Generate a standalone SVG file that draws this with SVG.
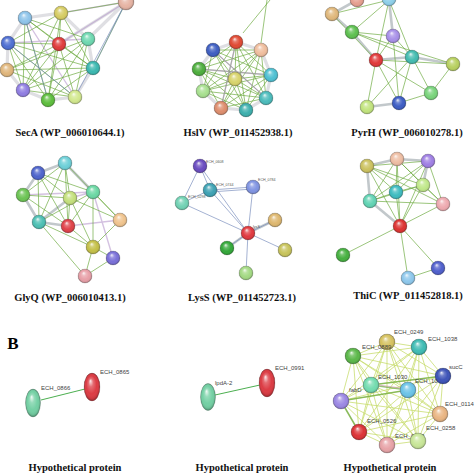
<svg xmlns="http://www.w3.org/2000/svg" width="474" height="474" viewBox="0 0 474 474">
<defs>
<radialGradient id="gl" cx="0.5" cy="0.5" r="0.5" fx="0.4" fy="0.28">
<stop offset="0" stop-color="#fff" stop-opacity="0.9"/>
<stop offset="0.3" stop-color="#fff" stop-opacity="0.25"/>
<stop offset="0.65" stop-color="#fff" stop-opacity="0"/>
<stop offset="0.88" stop-color="#000" stop-opacity="0.08"/>
<stop offset="1" stop-color="#000" stop-opacity="0.35"/>
</radialGradient>
<style>
.t{font-family:"Liberation Serif","Times New Roman",serif;font-weight:bold;font-size:10.5px;text-anchor:middle;fill:#111}
.l{font-family:"Liberation Sans",Arial,sans-serif;font-size:6px;fill:#444}
.s{font-family:"Liberation Sans",Arial,sans-serif;font-size:3.6px;fill:#555}
.g{fill:url(#gl);stroke:#555;stroke-opacity:0.35;stroke-width:0.6}
.h{fill:none;stroke:#b8b8c0;stroke-width:3.2;stroke-opacity:0.45}
.e{fill:none;stroke:#6aa83c;stroke-width:0.9;stroke-opacity:0.75}
.p{fill:none;stroke:#b090c8;stroke-width:1.4;stroke-opacity:0.55}
.b{fill:none;stroke:#6f86b8;stroke-width:0.8;stroke-opacity:0.8}
.y{fill:none;stroke:#c6dc6a;stroke-width:0.9;stroke-opacity:0.85}
.k{fill:none;stroke:#9aa4a8;stroke-width:2.6;stroke-opacity:0.6}
</style>
</defs>
<rect width="474" height="474" fill="#fff"/>
<g id="connectors">
<!-- SecA -->
<path class="h" d="M25,18L61,13L88,39L93,68L75,97L48,100L23,90L7,70L8,43L25,18M126,2L88,39M126,2L59,44"/>
<path class="p" d="M126,2L59,44M126,2L61,13M8,43L88,39M25,18L75,97"/>
<path class="e" d="M126,2L61,13M126,2L93,68M25,18L59,44M25,18L88,39M25,18L93,68M25,18L48,100M8,43L59,44M8,43L93,68M8,43L48,100M8,43L75,97M61,13L59,44M61,13L8,43M61,13L23,90M61,13L48,100M59,44L93,68M59,44L23,90M59,44L48,100M59,44L75,97M59,44L7,70M88,39L7,70M88,39L23,90M88,39L48,100M88,39L75,97M93,68L23,90M93,68L48,100M7,70L75,97M7,70L93,68M23,90L75,97M25,18L23,90M8,43L23,90M61,13L93,68"/>
<path class="b" d="M126,2L75,97M126,2L93,68M8,43L75,97M25,18L48,100"/>
<!-- HslV -->
<path class="h" d="M236,42L261,50L271,75L266,98L246,110L221,108L203,91L199,69L213,50L236,42"/>
<path class="e" d="M270,0L243,33M267,0L261,43M236,42L235,79M236,42L199,69M236,42L271,75M236,42L203,91M236,42L266,98M236,42L221,108M236,42L246,110M261,50L213,50M261,50L199,69M261,50L235,79M261,50L203,91M261,50L266,98M261,50L221,108M261,50L246,110M213,50L235,79M213,50L271,75M213,50L203,91M213,50L266,98M213,50L246,110M199,69L235,79M199,69L271,75M199,69L266,98M199,69L221,108M199,69L246,110M235,79L271,75M235,79L203,91M235,79L266,98M235,79L221,108M235,79L246,110M271,75L203,91M271,75L221,108M271,75L246,110M203,91L266,98M203,91L246,110M266,98L221,108"/>
<path class="p" d="M213,50L266,98M199,69L271,75M236,42L221,108"/>
<!-- PyrH -->
<path class="k" d="M332,14L357,0M332,14L352,32M352,32L376,60M376,60L412,57M389,0L393,36M399,103L367,107M412,57L453,64"/>
<path class="e" d="M332,14L376,60M332,14L389,0M352,32L389,0M352,32L393,36M352,32L412,57M389,0L376,60M389,0L412,57M393,36L376,60M393,36L412,57M376,60L453,64M376,60L431,93M376,60L399,103M376,60L367,107M412,57L431,93M412,57L399,103M412,57L367,107M431,93L399,103M453,64L431,93M393,36L399,103M352,32L453,64"/>
<!-- GlyQ -->
<path class="k" d="M65,163L38,173M65,163L93,192M38,173L23,195M23,195L39,222M39,222L68,226M70,198L39,222"/>
<path class="p" d="M23,195L93,192M68,226L120,220M93,192L113,258M70,198L93,192"/>
<path class="e" d="M65,163L23,195M65,163L70,198M65,163L39,222M65,163L68,226M38,173L70,198M38,173L93,192M38,173L39,222M38,173L68,226M23,195L70,198M23,195L68,226M70,198L68,226M70,198L120,220M93,192L39,222M93,192L68,226M93,192L120,220M93,192L93,247M70,198L93,247M39,222L93,247M68,226L93,247M120,220L93,247M93,247L113,258M93,247L85,276M113,258L85,276M39,222L85,276M65,163L120,220"/>
<!-- LysS -->
<path class="k" d="M248,233L275,220M248,233L227,248"/>
<path class="b" d="M200,166L210,190M200,166L182,203M200,166L248,233M210,190L182,203M210,190L253,187M210,192L253,189M210,190L248,233M182,203L248,233M253,187L248,233M248,233L285,250M248,233L246,273M248,233L275,220M248,233L227,248"/>
<!-- ThiC -->
<path class="k" d="M367,166L397,159M397,159L428,161M428,161L423,185M367,166L370,201M370,201L400,226"/>
<path class="e" d="M367,166L428,161M367,166L423,185M367,166L396,192M367,166L400,226M367,166L443,204M397,159L423,185M397,159L396,192M397,159L370,201M397,159L400,226M397,159L443,204M428,161L396,192M428,161L370,201M428,161L400,226M428,161L443,204M423,185L396,192M423,185L370,201M423,185L400,226M423,185L443,204M396,192L370,201M396,192L400,226M370,201L443,204M443,204L400,226M400,226L343,255M400,226L438,268M400,226L408,278M438,268L408,278"/>
<!-- B panels -->
<path fill="none" stroke="#4caf50" stroke-width="1" d="M41,400L85,389"/>
<path fill="none" stroke="#4caf50" stroke-width="1" d="M215,395L260,385"/>
<path class="y" d="M387,342L419,347M387,342L353,356M387,342L443,376M387,342L371,385M387,342L408,390M387,342L341,401M387,342L440,414M387,342L359,432M387,342L387,445M387,342L418,441M419,347L353,356M419,347L443,376M419,347L371,385M419,347L408,390M419,347L341,401M419,347L440,414M419,347L359,432M419,347L387,445M419,347L418,441M353,356L443,376M353,356L371,385M353,356L408,390M353,356L341,401M353,356L440,414M353,356L359,432M353,356L387,445M353,356L418,441M443,376L371,385M443,376L341,401M443,376L440,414M443,376L359,432M443,376L387,445M443,376L418,441M371,385L341,401M371,385L440,414M371,385L359,432M371,385L387,445M371,385L418,441M408,390L341,401M408,390L440,414M408,390L359,432M408,390L387,445M408,390L418,441M341,401L440,414M341,401L359,432M341,401L387,445M341,401L418,441M440,414L359,432M440,414L387,445M440,414L418,441M359,432L387,445M359,432L418,441M387,445L418,441"/>
<path fill="none" stroke="#6aa83c" stroke-width="1.6" stroke-opacity="0.7" d="M341,401L408,390M371,385L443,376M341,401L359,432M371,385L408,390"/>
<path fill="none" stroke="#d0a0b0" stroke-width="1.2" stroke-opacity="0.7" d="M371,384L408,389"/>
</g>
<g id="nodes-secA">
<g id="a1"><circle cx="126" cy="2" r="8" fill="#e6b4a4"/><circle cx="126" cy="2" r="8" class="g"/></g>
<g id="a2"><circle cx="61" cy="13" r="7" fill="#d6cc64"/><circle cx="61" cy="13" r="7" class="g"/></g>
<g id="a3"><circle cx="25" cy="18" r="7" fill="#8ec4ea"/><circle cx="25" cy="18" r="7" class="g"/></g>
<g id="a4"><circle cx="8" cy="43" r="7" fill="#4f6fd2"/><circle cx="8" cy="43" r="7" class="g"/></g>
<g id="a5"><circle cx="59" cy="44" r="7" fill="#e03c3c"/><circle cx="59" cy="44" r="7" class="g"/></g>
<g id="a6"><circle cx="88" cy="39" r="7" fill="#6ed8b0"/><circle cx="88" cy="39" r="7" class="g"/></g>
<g id="a7"><circle cx="93" cy="68" r="7" fill="#3cb8b0"/><circle cx="93" cy="68" r="7" class="g"/></g>
<g id="a8"><circle cx="7" cy="70" r="7" fill="#e0b67c"/><circle cx="7" cy="70" r="7" class="g"/></g>
<g id="a9"><circle cx="23" cy="90" r="7" fill="#907ee2"/><circle cx="23" cy="90" r="7" class="g"/></g>
<g id="a10"><circle cx="48" cy="100" r="7" fill="#5ebe3e"/><circle cx="48" cy="100" r="7" class="g"/></g>
<g id="a11"><circle cx="75" cy="97" r="7" fill="#d2e88e"/><circle cx="75" cy="97" r="7" class="g"/></g>
</g>
<g id="nodes-hslV">
<g id="b1"><circle cx="236" cy="42" r="7" fill="#e04a34"/><circle cx="236" cy="42" r="7" class="g"/></g>
<g id="b2"><circle cx="261" cy="50" r="7" fill="#f0be9e"/><circle cx="261" cy="50" r="7" class="g"/></g>
<g id="b3"><circle cx="213" cy="50" r="7" fill="#3f5fc2"/><circle cx="213" cy="50" r="7" class="g"/></g>
<g id="b4"><circle cx="199" cy="69" r="7" fill="#4eae3e"/><circle cx="199" cy="69" r="7" class="g"/></g>
<g id="b5"><circle cx="235" cy="79" r="7" fill="#d8d46c"/><circle cx="235" cy="79" r="7" class="g"/></g>
<g id="b6"><circle cx="271" cy="75" r="7" fill="#4ec0d2"/><circle cx="271" cy="75" r="7" class="g"/></g>
<g id="b7"><circle cx="203" cy="91" r="7" fill="#a8e090"/><circle cx="203" cy="91" r="7" class="g"/></g>
<g id="b8"><circle cx="266" cy="98" r="7" fill="#4cbcbc"/><circle cx="266" cy="98" r="7" class="g"/></g>
<g id="b9"><circle cx="221" cy="108" r="7" fill="#de8e6e"/><circle cx="221" cy="108" r="7" class="g"/></g>
<g id="b10"><circle cx="246" cy="110" r="7" fill="#3eb0ae"/><circle cx="246" cy="110" r="7" class="g"/></g>
</g>
<g id="nodes-pyrH">
<g id="c0a"><circle cx="357" cy="0" r="7" fill="#e6a090"/><circle cx="357" cy="0" r="7" class="g"/></g>
<g id="c0b"><circle cx="389" cy="-1" r="7" fill="#8ed0ea"/><circle cx="389" cy="-1" r="7" class="g"/></g>
<g id="c1"><circle cx="332" cy="14" r="7" fill="#e0b87c"/><circle cx="332" cy="14" r="7" class="g"/></g>
<g id="c2"><circle cx="352" cy="32" r="7" fill="#5ec050"/><circle cx="352" cy="32" r="7" class="g"/></g>
<g id="c3"><circle cx="393" cy="36" r="7" fill="#a890e8"/><circle cx="393" cy="36" r="7" class="g"/></g>
<g id="c4"><circle cx="376" cy="60" r="7" fill="#e03a3a"/><circle cx="376" cy="60" r="7" class="g"/></g>
<g id="c5"><circle cx="412" cy="57" r="7" fill="#44bcb0"/><circle cx="412" cy="57" r="7" class="g"/></g>
<g id="c6"><circle cx="453" cy="64" r="7" fill="#b8d060"/><circle cx="453" cy="64" r="7" class="g"/></g>
<g id="c7"><circle cx="431" cy="93" r="7" fill="#7ad47c"/><circle cx="431" cy="93" r="7" class="g"/></g>
<g id="c8"><circle cx="399" cy="103" r="7" fill="#3e5ec4"/><circle cx="399" cy="103" r="7" class="g"/></g>
<g id="c9"><circle cx="367" cy="107" r="7" fill="#c2e47e"/><circle cx="367" cy="107" r="7" class="g"/></g>
</g>
<g id="nodes-glyQ">
<g id="d1"><circle cx="65" cy="163" r="7" fill="#6ed0d8"/><circle cx="65" cy="163" r="7" class="g"/></g>
<g id="d2"><circle cx="38" cy="173" r="7" fill="#4e64cc"/><circle cx="38" cy="173" r="7" class="g"/></g>
<g id="d3"><circle cx="23" cy="195" r="7" fill="#6cc454"/><circle cx="23" cy="195" r="7" class="g"/></g>
<g id="d4"><circle cx="70" cy="198" r="7" fill="#c4e07c"/><circle cx="70" cy="198" r="7" class="g"/></g>
<g id="d5"><circle cx="93" cy="192" r="7" fill="#6cd8a4"/><circle cx="93" cy="192" r="7" class="g"/></g>
<g id="d6"><circle cx="39" cy="222" r="7" fill="#4ec0b4"/><circle cx="39" cy="222" r="7" class="g"/></g>
<g id="d7"><circle cx="68" cy="226" r="7" fill="#e0424a"/><circle cx="68" cy="226" r="7" class="g"/></g>
<g id="d8"><circle cx="120" cy="220" r="7" fill="#f0c48e"/><circle cx="120" cy="220" r="7" class="g"/></g>
<g id="d9"><circle cx="93" cy="247" r="7" fill="#c4c048"/><circle cx="93" cy="247" r="7" class="g"/></g>
<g id="d10"><circle cx="113" cy="258" r="7" fill="#7a70d8"/><circle cx="113" cy="258" r="7" class="g"/></g>
<g id="d11"><circle cx="85" cy="276" r="7" fill="#e8a0a8"/><circle cx="85" cy="276" r="7" class="g"/></g>
</g>
<g id="nodes-lysS">
<g id="e1"><circle cx="200" cy="166" r="7" fill="#6a4cc0"/><circle cx="200" cy="166" r="7" class="g"/></g>
<g id="e2"><circle cx="210" cy="190" r="7" fill="#3ea2b4"/><circle cx="210" cy="190" r="7" class="g"/></g>
<g id="e3"><circle cx="253" cy="187" r="7" fill="#8094e2"/><circle cx="253" cy="187" r="7" class="g"/></g>
<g id="e4"><circle cx="182" cy="203" r="7" fill="#72d2b4"/><circle cx="182" cy="203" r="7" class="g"/></g>
<g id="e5"><circle cx="275" cy="220" r="7" fill="#deb870"/><circle cx="275" cy="220" r="7" class="g"/></g>
<g id="e6"><circle cx="248" cy="233" r="7" fill="#e03a40"/><circle cx="248" cy="233" r="7" class="g"/></g>
<g id="e7"><circle cx="227" cy="248" r="7" fill="#34a83a"/><circle cx="227" cy="248" r="7" class="g"/></g>
<g id="e8"><circle cx="285" cy="250" r="7" fill="#c8c45c"/><circle cx="285" cy="250" r="7" class="g"/></g>
<g id="e9"><circle cx="246" cy="273" r="7" fill="#a4da84"/><circle cx="246" cy="273" r="7" class="g"/></g>
<text class="s" x="206" y="163">ECH_0608</text>
<text class="s" x="216" y="186">ECH_0744</text>
<text class="s" x="258" y="181">ECH_0784</text>
<text class="s" x="188" y="198">ECH_0298</text>
<text class="s" x="253" y="228">lysS</text>
</g>
<g id="nodes-thiC">
<g id="f1"><circle cx="367" cy="166" r="7" fill="#ccc260"/><circle cx="367" cy="166" r="7" class="g"/></g>
<g id="f2"><circle cx="397" cy="159" r="7" fill="#eebea4"/><circle cx="397" cy="159" r="7" class="g"/></g>
<g id="f3"><circle cx="428" cy="161" r="7" fill="#a080e4"/><circle cx="428" cy="161" r="7" class="g"/></g>
<g id="f4"><circle cx="423" cy="185" r="7" fill="#c0e88a"/><circle cx="423" cy="185" r="7" class="g"/></g>
<g id="f5"><circle cx="396" cy="192" r="7" fill="#3ebcc0"/><circle cx="396" cy="192" r="7" class="g"/></g>
<g id="f6"><circle cx="370" cy="201" r="7" fill="#62d4b4"/><circle cx="370" cy="201" r="7" class="g"/></g>
<g id="f7"><circle cx="443" cy="204" r="7" fill="#eeaab0"/><circle cx="443" cy="204" r="7" class="g"/></g>
<g id="f8"><circle cx="400" cy="226" r="7" fill="#dc3432"/><circle cx="400" cy="226" r="7" class="g"/></g>
<g id="f9"><circle cx="343" cy="255" r="7" fill="#46b040"/><circle cx="343" cy="255" r="7" class="g"/></g>
<g id="f10"><circle cx="438" cy="268" r="7" fill="#5060cc"/><circle cx="438" cy="268" r="7" class="g"/></g>
<g id="f11"><circle cx="408" cy="278" r="7" fill="#8ec8ec"/><circle cx="408" cy="278" r="7" class="g"/></g>
</g>
<g id="titles">
<text class="t" x="70" y="136">SecA (WP_006010644.1)</text>
<text class="t" x="238" y="136">HslV (WP_011452938.1)</text>
<text class="t" x="407" y="136">PyrH (WP_006010278.1)</text>
<text class="t" x="70" y="301">GlyQ (WP_006010413.1)</text>
<text class="t" x="242" y="301">LysS (WP_011452723.1)</text>
<text class="t" x="408" y="299">ThiC (WP_011452818.1)</text>
<text x="13" y="349" font-family="Liberation Serif,serif" font-weight="bold" font-size="17" text-anchor="middle">B</text>
<text class="t" x="75" y="471">Hypothetical protein</text>
<text class="t" x="242" y="471">Hypothetical protein</text>
<text class="t" x="390" y="471">Hypothetical protein</text>
</g>
<g id="nodes-B1">
<g id="n0866"><ellipse cx="33" cy="403" rx="7.5" ry="14" fill="#74d0a4"/><ellipse cx="33" cy="403" rx="7.5" ry="14" class="g"/><text class="l" x="41" y="390">ECH_0866</text></g>
<g id="n0865"><ellipse cx="92" cy="387" rx="8" ry="14" fill="#dc3c44"/><ellipse cx="92" cy="387" rx="8" ry="14" class="g"/><text class="l" x="100" y="374">ECH_0865</text></g>
</g>
<g id="nodes-B2">
<g id="nlpdA"><ellipse cx="208" cy="397" rx="7.5" ry="13.5" fill="#74d0a4"/><ellipse cx="208" cy="397" rx="7.5" ry="13.5" class="g"/><text class="l" x="215" y="385">lpdA-2</text></g>
<g id="n0991"><ellipse cx="267" cy="383" rx="8" ry="14" fill="#dc3c44"/><ellipse cx="267" cy="383" rx="8" ry="14" class="g"/><text class="l" x="275" y="370">ECH_0991</text></g>
</g>
<g id="nodes-B3">
<g id="n0249"><circle cx="387" cy="342" r="8" fill="#d6c260"/><circle cx="387" cy="342" r="8" class="g"/><text class="l" x="394" y="334">ECH_0249</text></g>
<g id="n1038"><circle cx="419" cy="347" r="8" fill="#40bcb4"/><circle cx="419" cy="347" r="8" class="g"/><text class="l" x="428" y="341">ECH_1038</text></g>
<g id="n0889"><circle cx="353" cy="356" r="8" fill="#5cb84a"/><circle cx="353" cy="356" r="8" class="g"/><text class="l" x="362" y="349">ECH_0889</text></g>
<g id="nsucC"><circle cx="443" cy="376" r="8" fill="#3e54b8"/><circle cx="443" cy="376" r="8" class="g"/><text class="l" x="449" y="369">sucC</text></g>
<g id="n1030"><circle cx="371" cy="385" r="8" fill="#74dcb0"/><circle cx="371" cy="385" r="8" class="g"/><text class="l" x="378" y="379">ECH_1030</text></g>
<g id="n10"><text class="l" x="415" y="383">ECH_10</text><circle cx="408" cy="390" r="8" fill="#6cc4e8"/><circle cx="408" cy="390" r="8" class="g"/></g>
<g id="nfabD"><circle cx="341" cy="401" r="8" fill="#9c88e4"/><circle cx="341" cy="401" r="8" class="g"/><text class="l" x="349" y="392">fabD</text></g>
<g id="n0114"><circle cx="440" cy="414" r="8" fill="#eab684"/><circle cx="440" cy="414" r="8" class="g"/><text class="l" x="445" y="406" font-size="5.5">ECH_0114</text></g>
<g id="n0526"><circle cx="359" cy="432" r="8" fill="#dc3438"/><circle cx="359" cy="432" r="8" class="g"/><text class="l" x="367" y="423">ECH_0526</text></g>
<g id="n0253"><circle cx="387" cy="445" r="8" fill="#e8a4a8"/><circle cx="387" cy="445" r="8" class="g"/><text class="l" x="395" y="438">ECH_0253</text></g>
<g id="n0258"><circle cx="418" cy="441" r="8" fill="#c8e698"/><circle cx="418" cy="441" r="8" class="g"/><text class="l" x="426" y="430">ECH_0258</text></g>
</g>
</svg>
